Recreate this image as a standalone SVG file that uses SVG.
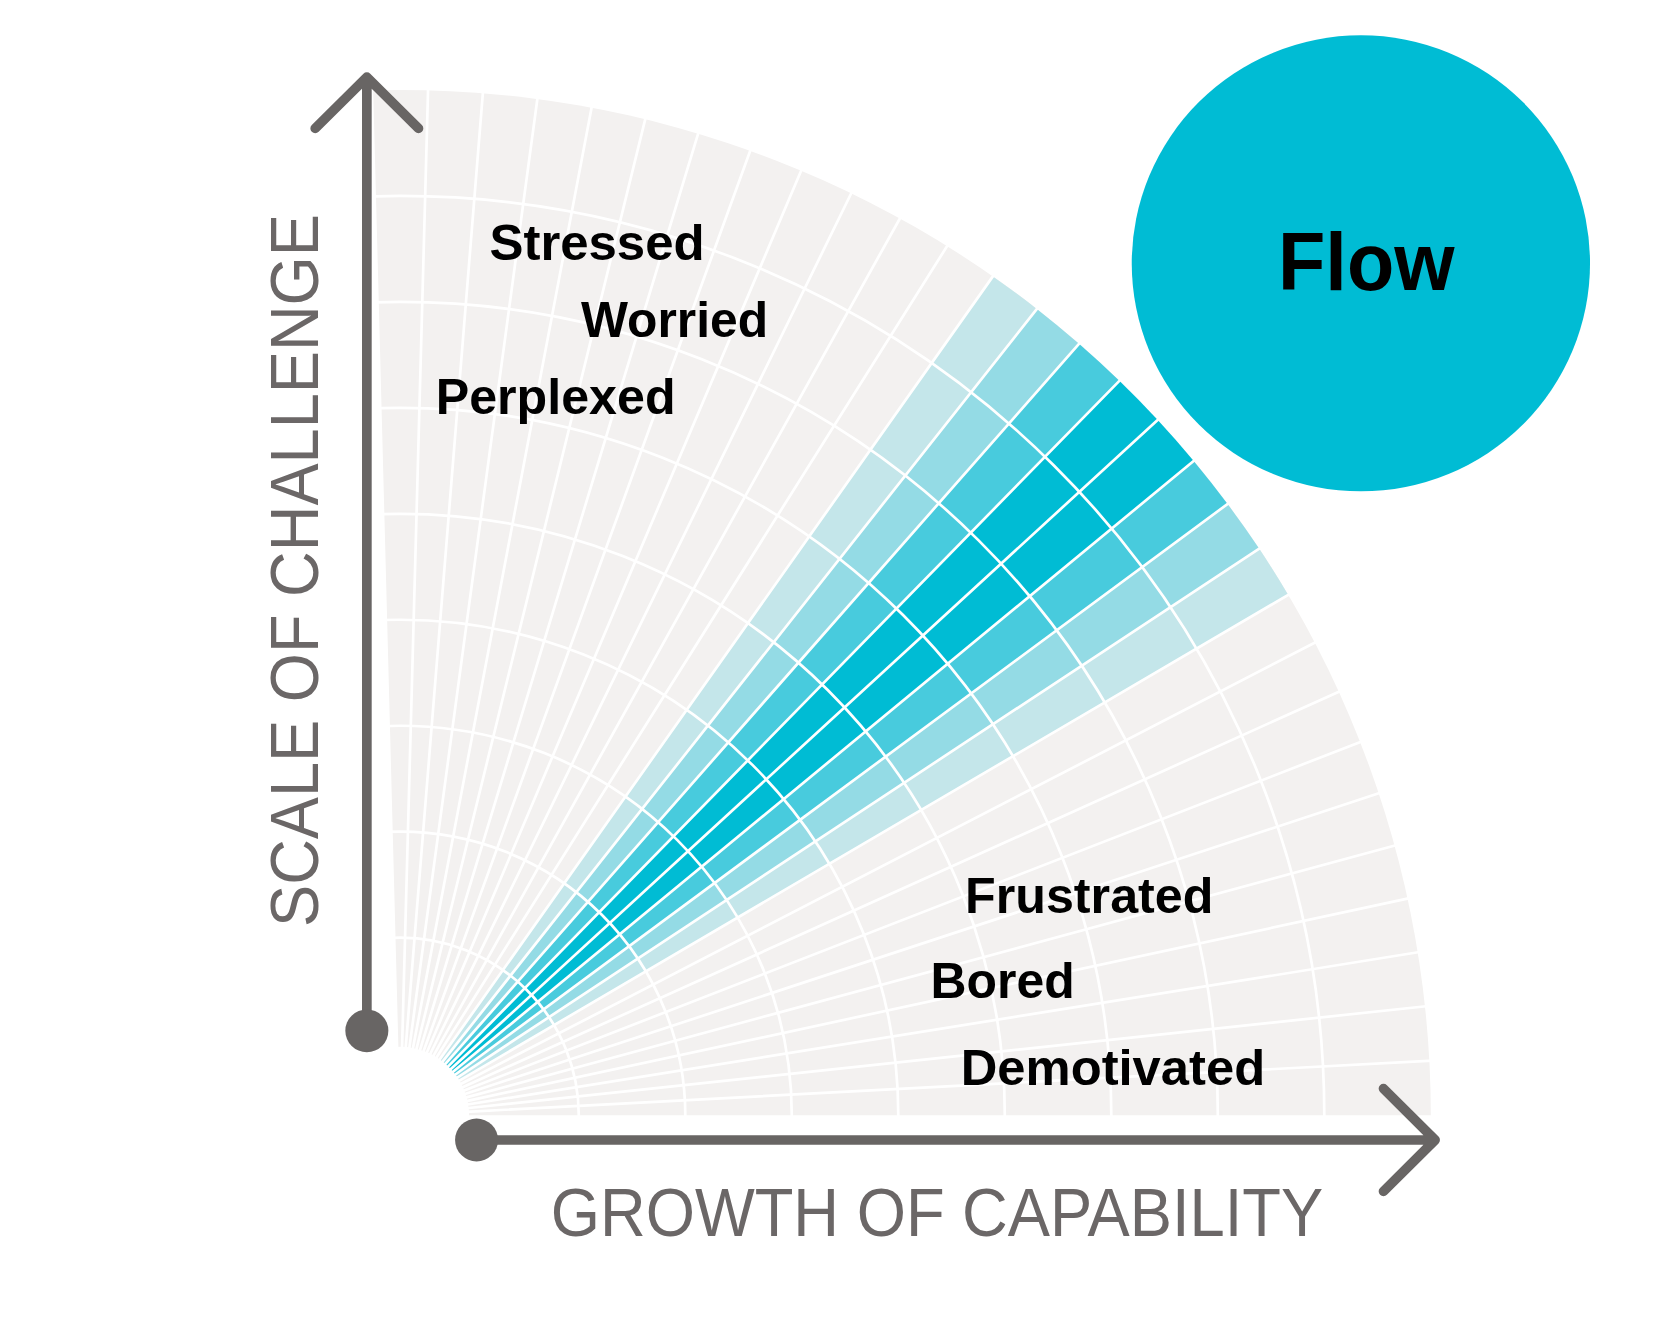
<svg xmlns="http://www.w3.org/2000/svg" width="1674" height="1338" viewBox="0 0 1674 1338">
<style>
.grid{stroke:#fff;stroke-width:2.5;fill:none}
.lbl{font-family:"Liberation Sans",Arial,sans-serif;font-weight:bold;font-size:46px;fill:#000}
.ax{stroke:#686564;stroke-width:9;stroke-linecap:round;stroke-linejoin:round;fill:none}
.axt{font-family:"Liberation Sans",Arial,sans-serif;font-size:64px;fill:#6b6767}
.c1{fill:#c4e6ea}.c2{fill:#94dbe5}.c3{fill:#48cbdd}.c4{fill:#00bcd4}
</style>
<rect width="1674" height="1338" fill="#fff"/>
<g transform="scale(1.0758,1.0704)">
<g id="fan">
<path d="M372,1042 L1330,1042 A958 958 0 0 0 346.9,84.3 Z" fill="#f3f1f0"/>
<path class="c1" d="M372,1042 L1197.5,555.8 A958 958 0 0 0 1170.4,512.5 Z"/>
<path class="c2" d="M372,1042 L1170.4,512.5 A958 958 0 0 0 1141.1,470.9 Z"/>
<path class="c3" d="M372,1042 L1141.1,470.9 A958 958 0 0 0 1109.6,430.7 Z"/>
<path class="c4" d="M372,1042 L1109.6,430.7 A958 958 0 0 0 1040.5,355.8 Z"/>
<path class="c3" d="M372,1042 L1040.5,355.8 A958 958 0 0 0 1003.0,321.2 Z"/>
<path class="c2" d="M372,1042 L1003.0,321.2 A958 958 0 0 0 963.8,288.6 Z"/>
<path class="c1" d="M372,1042 L963.8,288.6 A958 958 0 0 0 922.9,258.2 Z"/>
<g class="grid">
<circle cx="372" cy="1042" r="166"/><circle cx="372" cy="1042" r="265"/><circle cx="372" cy="1042" r="364"/>
<circle cx="372" cy="1042" r="463"/><circle cx="372" cy="1042" r="562"/><circle cx="372" cy="1042" r="661"/>
<circle cx="372" cy="1042" r="760"/><circle cx="372" cy="1042" r="859"/>
<path d="M433.9,1038.7L1340.6,990.4M433.6,1035.4L1336.5,938.9M433.2,1032.1L1329.7,887.8M432.6,1028.9L1320.1,837.0M431.8,1025.7L1307.8,786.9M430.9,1022.5L1292.9,737.4M429.7,1019.4L1275.4,688.9M428.5,1016.4L1255.4,641.3M427.0,1013.4L1232.8,594.9M425.4,1010.5L1207.8,549.7M423.7,1007.7L1180.4,505.9M421.8,1005.0L1150.7,463.7M419.7,1002.4L1118.8,423.0M417.6,1000.0L1084.9,384.2M415.3,997.6L1048.9,347.2M412.8,995.4L1010.9,312.2M410.3,993.2L971.2,279.2M407.7,991.3L929.8,248.4M404.9,989.4L886.7,219.8M402.1,987.8L842.3,193.6M399.1,986.3L796.5,169.8M396.1,984.9L749.4,148.4M393.1,983.7L701.4,129.6M389.9,982.6L652.4,113.4M386.7,981.8L602.6,99.8M383.5,981.1L552.1,88.9M380.3,980.6L501.1,80.6M377.0,980.2L449.8,75.1M373.7,980.0L398.2,72.4"/>
</g>
<circle cx="372" cy="1042" r="64" fill="#fff"/>
</g>
<g id="flow">
<circle cx="1265" cy="246" r="213" fill="#00bcd4"/>
<text x="1270" y="271" text-anchor="middle" font-family="Liberation Sans,Arial,sans-serif" font-weight="bold" font-size="76" textLength="164" lengthAdjust="spacingAndGlyphs">Flow</text>
</g>
<g id="labels">
<text class="lbl" x="455" y="243" textLength="200" lengthAdjust="spacingAndGlyphs">Stressed</text>
<text class="lbl" x="540" y="315" textLength="174" lengthAdjust="spacingAndGlyphs">Worried</text>
<text class="lbl" x="405" y="387" textLength="223" lengthAdjust="spacingAndGlyphs">Perplexed</text>
<text class="lbl" x="897" y="853" textLength="231" lengthAdjust="spacingAndGlyphs">Frustrated</text>
<text class="lbl" x="865" y="932" textLength="134" lengthAdjust="spacingAndGlyphs">Bored</text>
<text class="lbl" x="893" y="1014" textLength="283" lengthAdjust="spacingAndGlyphs">Demotivated</text>
</g>
<g id="axes">
<path class="ax" d="M341,963 V72 M293,120 L341,72 L389,120"/>
<circle cx="341" cy="963" r="20" fill="#686564"/>
<path class="ax" d="M443,1065 H1334 M1286,1017 L1334,1065 L1286,1113"/>
<circle cx="443" cy="1065" r="20" fill="#686564"/>
<text class="axt" transform="translate(296,866) rotate(-90)" textLength="666" lengthAdjust="spacingAndGlyphs">SCALE OF CHALLENGE</text>
<text class="axt" x="512" y="1155" textLength="718" lengthAdjust="spacingAndGlyphs">GROWTH OF CAPABILITY</text>
</g>
</g>
</svg>
